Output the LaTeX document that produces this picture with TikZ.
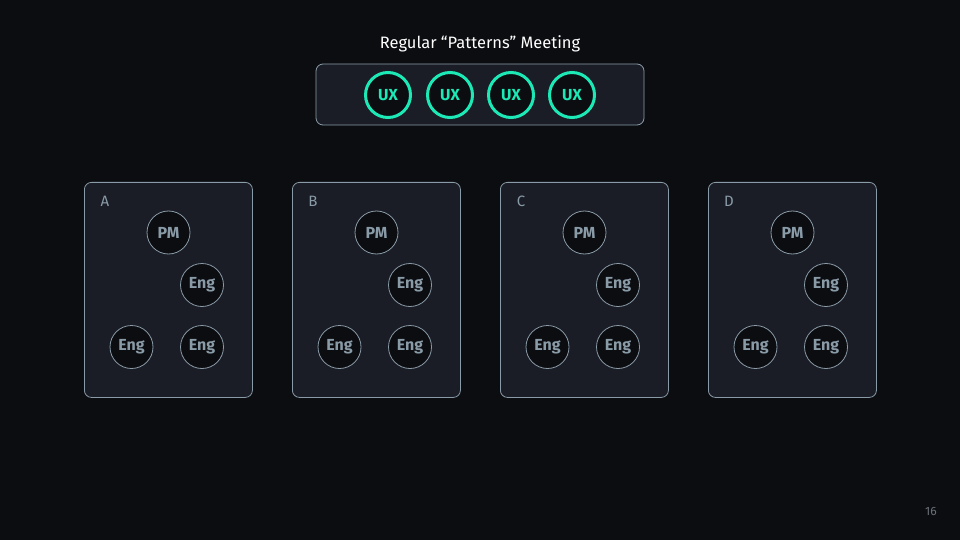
\documentclass[tikz,border=0pt]{standalone}
\usepackage{fontspec}
\setmainfont{Fira Sans}
\usetikzlibrary{positioning}
\definecolor{fond}{HTML}{0C0D11}
\definecolor{boite}{HTML}{1A1D25}
\definecolor{trait}{HTML}{8A9BA8}
\definecolor{turquoise}{HTML}{1DE9B6}
\definecolor{gris}{HTML}{6B7078}

\begin{document}
\begin{tikzpicture}[x=1pt,y=-1pt]
  \tikzstyle{cadre}=[draw=trait, fill=boite, rounded corners=7pt, line width=0.8pt]
  \tikzstyle{rond}=[circle, draw=trait, fill=fond, line width=0.8pt,
    minimum size=43pt, inner sep=0pt, text=trait,
    font=\bfseries\fontsize{16}{16}\selectfont]
  \tikzstyle{ux}=[circle, draw=turquoise, fill=fond, line width=3pt,
    minimum size=45pt, inner sep=0pt, text=turquoise,
    font=\bfseries\fontsize{16}{16}\selectfont]
  \useasboundingbox (0,0) rectangle (960,540);
  \fill[fond] (0,0) rectangle (960,540);
  % regular meeting
  \node[text=white, font=\fontsize{16.5}{16.5}\selectfont] (titre) at (480,44)
    {Regular “Patterns” Meeting};
  \node[cadre, minimum width=328pt, minimum height=61pt] (reunion) at (480,94.5) {};
  \foreach \i/\x in {1/388,2/450,3/511,4/572}
    \node[ux] (ux\i) at (\x,95) {UX};
  % teams
  \foreach \t/\x in {A/84,B/292,C/500,D/708} {
    \node[cadre, minimum width=168pt, minimum height=215pt, anchor=north west]
      (equipe\t) at (\x,182) {};
    \node[text=trait, font=\fontsize{15}{15}\selectfont] (nom\t) at (\x+21,201) {\t};
    \node[rond] (pm\t) at (\x+84.5,232.5) {PM};
    \node[rond] (engR\t) at (\x+118,285) {Eng};
    \node[rond] (engBG\t) at (\x+47.5,347) {Eng};
    \node[rond] (engBD\t) at (\x+118,347) {Eng};
  }
  \node[text=gris, font=\fontsize{12}{12}\selectfont] (page) at (931,511) {16};
\end{tikzpicture}
\end{document}
